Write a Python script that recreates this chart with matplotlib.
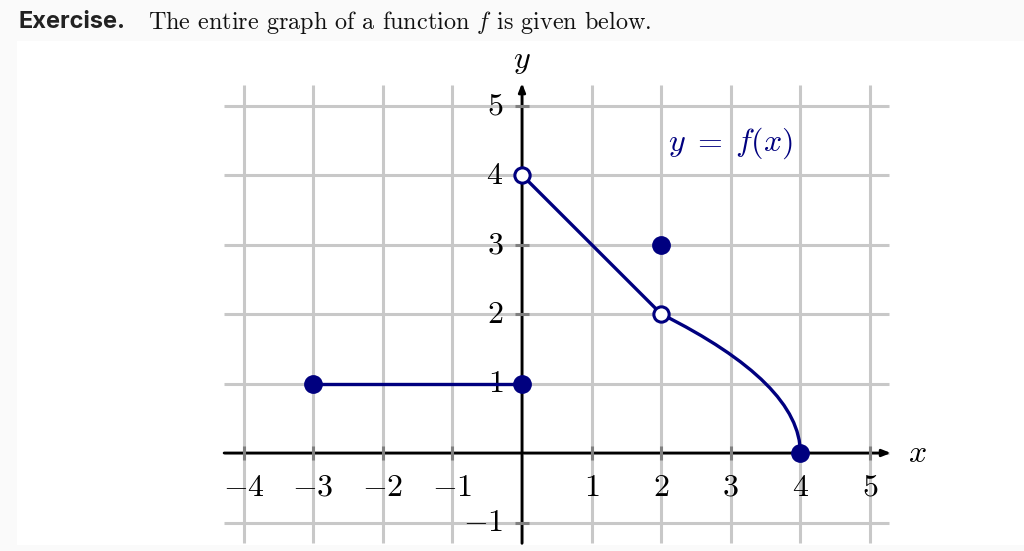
import matplotlib
matplotlib.use("Agg")
import matplotlib.pyplot as plt
from matplotlib.path import Path
from matplotlib.patches import PathPatch, Rectangle

plt.rcParams["mathtext.fontset"] = "cm"
plt.rcParams["axes.unicode_minus"] = True

NAVY = "#00007f"
GRID = "#c8c8c8"

# grid / tick values
x_ticks = [-4, -3, -2, -1, 1, 2, 3, 4, 5]
y_ticks = [-1, 1, 2, 3, 4, 5]
grid_x = [-4, -3, -2, -1, 0, 1, 2, 3, 4, 5]
grid_y = [-1, 0, 1, 2, 3, 4, 5]

# pieces of f
flat_x = [-3, 0]
flat_y = [1, 1]
line_x = [0, 2]
line_y = [4, 2]
# square-root piece from (2,2) down to (4,0), as quadratic bezier (start, control, end)
curve_x = [2, 4, 4]
curve_y = [2, 1, 0]
closed_x = [-3, 0, 2, 4]
closed_y = [1, 1, 3, 0]
open_x = [0, 2]
open_y = [4, 2]

fig = plt.figure(figsize=(10.24, 5.51), dpi=100, facecolor="#fafafa")
ax = fig.add_axes([0, 0, 1, 1])
ax.set_facecolor("none")
ax.set_xlim(-7.5, 7.213)
ax.set_ylim(-1.41, 6.518)
ax.axis("off")
# white panel behind the graph
ax.add_patch(Rectangle((17 / 1024, 6 / 551), 1 - 17 / 1024, 504 / 551,
                       transform=fig.transFigure, facecolor="white",
                       edgecolor="none", zorder=0))

xmin, xmax = -4.28, 5.28
ymin, ymax = -1.3, 5.3
for gx in grid_x:
    ax.plot([gx, gx], [ymin, ymax], color=GRID, lw=2.2, zorder=1, solid_capstyle="butt")
for gy in grid_y:
    ax.plot([xmin, xmax], [gy, gy], color=GRID, lw=2.2, zorder=1, solid_capstyle="butt")

# axes with arrows
ax.annotate("", xy=(xmax + 0.02, 0), xytext=(xmin, 0),
            arrowprops=dict(arrowstyle="-|>,head_length=0.5,head_width=0.2", color="black", lw=2.0,
                            shrinkA=0, shrinkB=0), zorder=2)
ax.annotate("", xy=(0, ymax + 0.02), xytext=(0, ymin),
            arrowprops=dict(arrowstyle="-|>,head_length=0.5,head_width=0.2", color="black", lw=2.0,
                            shrinkA=0, shrinkB=0), zorder=2)

# tick marks and labels
for t in x_ticks:
    ax.plot([t, t], [-0.1, 0.1], color="#808080", lw=2.2, zorder=3, solid_capstyle="butt")
    ax.text(t, -0.49, "$%d$" % t, ha="center", va="center", fontsize=23, zorder=4)
for t in y_ticks:
    ax.plot([-0.1, 0.1], [t, t], color="#808080", lw=2.2, zorder=3, solid_capstyle="butt")
    ax.text(-0.27, t, "$%d$" % t, ha="right", va="center", fontsize=23, zorder=4)

ax.text(5.55, 0, "$x$", ha="left", va="center", fontsize=23)
ax.text(0, 5.42, "$y$", ha="center", va="bottom", fontsize=23)

# graph of f
ax.plot(flat_x, flat_y, color=NAVY, lw=2.4, zorder=5)
ax.plot(line_x, line_y, color=NAVY, lw=2.4, zorder=5)
verts = list(zip(curve_x, curve_y))
path = Path(verts, [Path.MOVETO, Path.CURVE3, Path.CURVE3])
ax.add_patch(PathPatch(path, facecolor="none", edgecolor=NAVY, lw=2.4, zorder=5))
ax.plot(closed_x, closed_y, "o", color=NAVY, ms=12.5, zorder=6)
ax.plot(open_x, open_y, "o", mfc="white", mec=NAVY, mew=2.2, ms=11, zorder=6)

ax.text(3.0, 4.45, r"$y\;=\;f(x)$", color=NAVY, ha="center", va="center", fontsize=23)

# heading
fig.text(18 / 1024, 1 - 22 / 551, "Exercise.", fontfamily="Inter", fontweight="bold",
         fontsize=17, color="#222222", ha="left", va="center")
fig.text(148 / 1024, 1 - 22 / 551, "The entire graph of a function $f$ is given below.",
         fontfamily="cmr10", fontsize=17.4, color="#111111", ha="left", va="center")

fig.savefig("out.png", dpi=100, facecolor=fig.get_facecolor())
